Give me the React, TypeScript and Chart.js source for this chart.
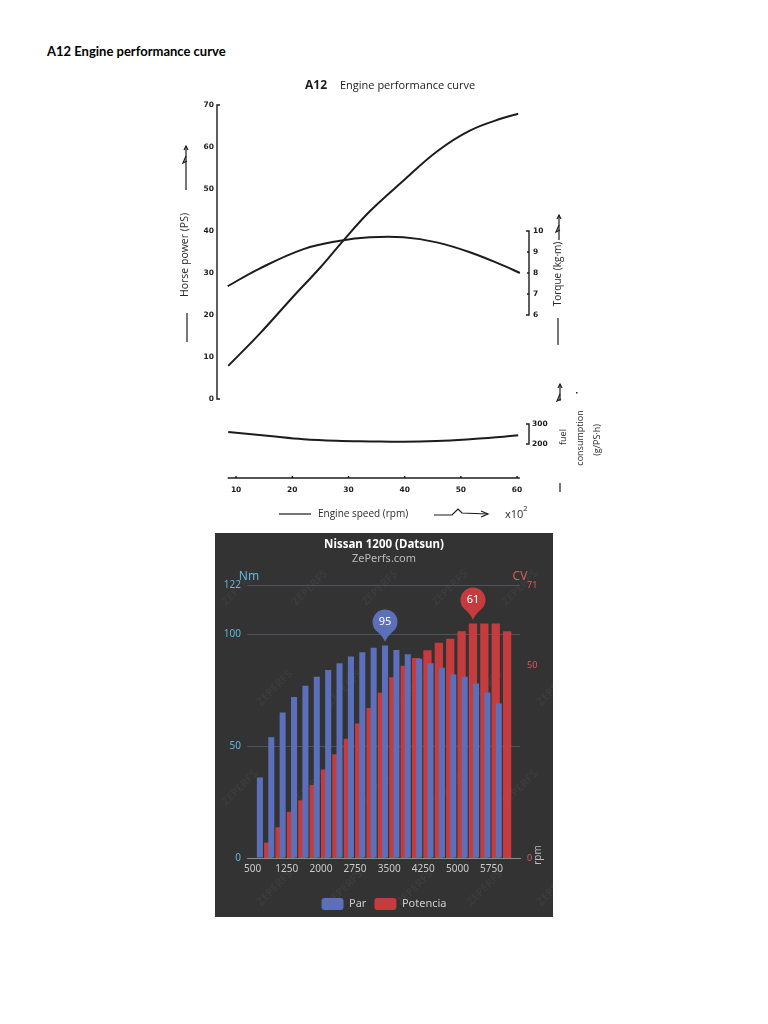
import React, { useEffect, useRef } from 'react';
import { Chart, registerables } from 'chart.js';

Chart.register(...registerables);

// ===== A12 engine performance curve (scanned chart), engine speed in x100 rpm =====
const rpmTicks = [10, 20, 30, 40, 50, 60];
const hpTicks = [0, 10, 20, 30, 40, 50, 60, 70];
const torqueTicks = [6, 7, 8, 9, 10];
const fuelTicks = [200, 300];

const hpSpeed = [8.6, 14.3, 20.1, 24.9, 29.0, 33.8, 39.7, 45.8, 51.6, 57.5, 60.2];
const hpValues = [7.9, 15.7, 24.3, 31.2, 37.6, 44.7, 51.9, 59.0, 63.9, 66.9, 67.9];
const torqueSpeed = [8.5, 14.0, 22.0, 28.5, 33.8, 39.8, 45.7, 51.6, 57.6, 60.5];
const torqueValues = [7.37, 8.19, 9.14, 9.54, 9.7, 9.7, 9.46, 8.99, 8.35, 8.0];
const fuelSpeed = [8.6, 16.0, 22.0, 27.9, 33.8, 39.8, 45.7, 51.6, 57.6, 60.2];
const fuelValues = [260, 240, 224, 216, 213, 211, 215, 224, 236, 244];

// ===== ZePerfs bar chart: Nissan 1200 (Datsun) =====
const rpmCategories = [500, 750, 1000, 1250, 1500, 1750, 2000, 2250, 2500, 2750, 3000, 3250, 3500, 3750, 4000, 4250, 4500, 4750, 5000, 5250, 5500, 5750, 6000, 6250];
const parNm = [null, 36, 54, 65, 72, 77, 81, 84, 87, 90, 92, 94, 95, 93, 91, 89, 87, 85, 82, 81, 78, 74, 69, null];
const potenciaCv = [null, 4, 8, 12, 15, 19, 23, 27, 31, 35, 39, 43, 47, 50, 52, 54, 56, 57, 59, 61, 61, 61, 59, null];
const nmTicks = [0, 50, 100, 122];
const cvTicks = [0, 50, 71];

const INK = '#1c1c1c';
const SCAN_FONT = "'Open Sans', 'Noto Sans', sans-serif";
const ZP_FONT = "'Noto Sans', 'Open Sans', sans-serif";
const BLUE = '#5c6fba';
const RED = '#c43c3d';

function poly(ctx: CanvasRenderingContext2D, pts: number[][]) {
  ctx.beginPath();
  pts.forEach(([x, y], i) => (i === 0 ? ctx.moveTo(x, y) : ctx.lineTo(x, y)));
  ctx.stroke();
}

function vtext(ctx: CanvasRenderingContext2D, text: string, x: number, y: number, font: string) {
  ctx.save();
  ctx.translate(x, y);
  ctx.rotate(-Math.PI / 2);
  ctx.font = font;
  ctx.textAlign = 'center';
  ctx.textBaseline = 'middle';
  ctx.fillText(text, 0, 0);
  ctx.restore();
}

function upArrow(ctx: CanvasRenderingContext2D, x: number, yTop: number, yBot: number) {
  poly(ctx, [[x, yBot], [x, yTop]]);
  poly(ctx, [[x, yTop + 10], [x - 3, yTop + 17], [x + 1, yTop + 15]]);
  poly(ctx, [[x - 2, yTop + 4], [x, yTop], [x + 2, yTop + 4]]);
}

function EngineCurve() {
  const ref = useRef<HTMLCanvasElement>(null);
  useEffect(() => {
    const OX = 150;
    const OY = 60;
    const decor = {
      id: 'scanDecor',
      afterDraw(chart: any) {
        const { ctx, chartArea: ca, scales } = chart;
        const px = (x: number) => x - OX;
        const py = (y: number) => y - OY;
        ctx.save();
        ctx.strokeStyle = INK;
        ctx.fillStyle = INK;
        ctx.lineWidth = 1.4;
        // chart title
        ctx.textBaseline = 'middle';
        ctx.textAlign = 'left';
        ctx.font = `bold 12px ${SCAN_FONT}`;
        ctx.fillText('A12', px(305), py(86));
        ctx.font = `11px ${SCAN_FONT}`;
        ctx.fillText('Engine performance curve', px(340), py(86));
        // horse power axis
        const yh0 = scales.yHP.getPixelForValue(0);
        const yh70 = scales.yHP.getPixelForValue(70);
        poly(ctx, [[ca.left + 3, yh70], [ca.left, yh70], [ca.left, yh0], [ca.left + 3, yh0]]);
        // engine speed axis
        const xb = ca.bottom;
        poly(ctx, [[scales.x.getPixelForValue(8.5), xb], [scales.x.getPixelForValue(60.5), xb]]);
        rpmTicks.forEach((v) => {
          const x = scales.x.getPixelForValue(v);
          poly(ctx, [[x, xb], [x, xb - 2]]);
        });
        // torque bracket
        const bx = ca.right + 8;
        const t6 = scales.yT.getPixelForValue(6);
        const t10 = scales.yT.getPixelForValue(10);
        poly(ctx, [[bx - 3, t10], [bx, t10], [bx, t6], [bx - 3, t6]]);
        [7, 8, 9].forEach((v) => {
          const y = scales.yT.getPixelForValue(v);
          poly(ctx, [[bx - 2, y], [bx, y]]);
        });
        // fuel bracket + labels
        const f2 = scales.yF.getPixelForValue(200);
        const f3 = scales.yF.getPixelForValue(300);
        poly(ctx, [[bx - 3, f3], [bx, f3], [bx, f2], [bx - 3, f2]]);
        ctx.font = `bold 7.5px 'DejaVu Sans', sans-serif`;
        ctx.textAlign = 'left';
        fuelTicks.forEach((v) => ctx.fillText(String(v), bx + 3, scales.yF.getPixelForValue(v)));
        // axis titles
        ctx.fillStyle = '#2a2a2a';
        vtext(ctx, 'Horse power (PS)', px(185), py(255), `10.5px ${SCAN_FONT}`);
        vtext(ctx, 'Torque (kg·m)', px(558), py(274), `10px ${SCAN_FONT}`);
        vtext(ctx, 'fuel', px(563), py(437), `9px ${SCAN_FONT}`);
        vtext(ctx, 'consumption', px(580), py(438), `9px ${SCAN_FONT}`);
        vtext(ctx, '(g/PS·h)', px(597), py(440), `9px ${SCAN_FONT}`);
        ctx.lineWidth = 1.2;
        poly(ctx, [[px(187), py(313)], [px(187), py(342)]]);
        upArrow(ctx, px(186), py(146), py(190));
        poly(ctx, [[px(558), py(318)], [px(558), py(345)]]);
        upArrow(ctx, px(559), py(215), py(240));
        upArrow(ctx, px(560), py(384), py(401));
        poly(ctx, [[px(560), py(483)], [px(560), py(492)]]);
        ctx.fillRect(px(576), py(392), 1.5, 1.5);
        // engine speed legend
        poly(ctx, [[px(279), py(514)], [px(311), py(514)]]);
        ctx.font = `10px ${SCAN_FONT}`;
        ctx.textAlign = 'left';
        ctx.textBaseline = 'middle';
        ctx.fillText('Engine speed (rpm)', px(318), py(514));
        poly(ctx, [[px(434), py(515)], [px(452), py(515)], [px(458), py(509)], [px(462), py(513)], [px(488), py(514)]]);
        poly(ctx, [[px(481), py(511)], [px(488), py(514)], [px(481), py(517)]]);
        ctx.font = `11px ${SCAN_FONT}`;
        ctx.fillText('x10', px(505), py(515));
        ctx.font = `8px ${SCAN_FONT}`;
        ctx.fillText('2', px(523), py(509));
        ctx.restore();
      },
    };
    const tickFont = { family: "'DejaVu Sans', sans-serif", size: 7.5, weight: 'bold' as const };
    const chart = new Chart(ref.current as HTMLCanvasElement, {
      type: 'line',
      data: {
        datasets: [
          { label: 'Horse power', data: hpSpeed.map((x, i) => ({ x, y: hpValues[i] })), yAxisID: 'yHP' },
          { label: 'Torque', data: torqueSpeed.map((x, i) => ({ x, y: torqueValues[i] })), yAxisID: 'yT' },
          { label: 'Fuel consumption', data: fuelSpeed.map((x, i) => ({ x, y: fuelValues[i] })), yAxisID: 'yF' },
        ],
      },
      options: {
        responsive: false,
        animation: false,
        layout: { padding: { top: 45, left: 0, right: 0, bottom: 0 } },
        elements: {
          point: { radius: 0 },
          line: { borderColor: INK, borderWidth: 2, tension: 0.4, fill: false },
        },
        plugins: { legend: { display: false }, tooltip: { enabled: false } },
        scales: {
          x: {
            type: 'linear',
            min: 6.6,
            max: 60.7,
            afterBuildTicks: (s: any) => { s.ticks = rpmTicks.map((v) => ({ value: v })); },
            afterFit: (s: any) => { s.height = 57; },
            grid: { display: false, drawTicks: false },
            border: { display: false },
            ticks: { padding: 8, color: INK, font: tickFont, maxRotation: 0 },
          },
          yHP: {
            type: 'linear',
            position: 'left',
            min: -18.8,
            max: 70,
            afterBuildTicks: (s: any) => { s.ticks = hpTicks.map((v) => ({ value: v })); },
            afterFit: (s: any) => { s.width = 67; },
            grid: { display: false, drawTicks: false },
            border: { display: false },
            ticks: { padding: 3, color: INK, font: tickFont },
          },
          yT: {
            type: 'linear',
            position: 'right',
            min: -1.76,
            max: 16,
            afterBuildTicks: (s: any) => { s.ticks = torqueTicks.map((v) => ({ value: v })); },
            afterFit: (s: any) => { s.width = 99; },
            grid: { display: false, drawTicks: false },
            border: { display: false },
            ticks: { padding: 12, color: INK, font: tickFont },
          },
          yF: { type: 'linear', display: false, min: 30, max: 1895 },
        },
      } as any,
      plugins: [decor],
    });
    return () => chart.destroy();
  }, []);
  return <canvas ref={ref} width={470} height={475} style={{ position: 'absolute', left: 150, top: 60 }} />;
}

function drawPin(ctx: CanvasRenderingContext2D, cx: number, cy: number, tipY: number, r: number, color: string, text: string) {
  const a = 0.78;
  const sx = cx - r * Math.sin(a);
  const sy = cy + r * Math.cos(a);
  ctx.save();
  ctx.fillStyle = color;
  ctx.beginPath();
  ctx.moveTo(sx, sy);
  ctx.arc(cx, cy, r, Math.PI / 2 + a, Math.PI / 2 - a, false);
  ctx.quadraticCurveTo(cx + 2.5, tipY - 6, cx, tipY);
  ctx.quadraticCurveTo(cx - 2.5, tipY - 6, sx, sy);
  ctx.closePath();
  ctx.fill();
  ctx.fillStyle = '#fff';
  ctx.font = `11px ${ZP_FONT}`;
  ctx.textAlign = 'center';
  ctx.textBaseline = 'middle';
  ctx.fillText(text, cx, cy);
  ctx.restore();
}

function ZePerfsChart() {
  const ref = useRef<HTMLCanvasElement>(null);
  useEffect(() => {
    const background = {
      id: 'zpBackground',
      beforeDraw(chart: any) {
        const { ctx, width, height } = chart;
        ctx.save();
        ctx.fillStyle = '#333333';
        ctx.fillRect(0, 0, width, height);
        ctx.fillStyle = 'rgba(255,255,255,0.045)';
        ctx.font = `bold 11px ${ZP_FONT}`;
        ctx.textAlign = 'center';
        ctx.textBaseline = 'middle';
        for (let row = 0; row < 5; row++) {
          for (let col = 0; col < 6; col++) {
            const x = 25 + col * 70 + (row % 2) * 35;
            const y = 55 + row * 100;
            ctx.save();
            ctx.translate(x, y);
            ctx.rotate(-Math.PI / 4);
            ctx.fillText('ZEPERFS', 0, 0);
            ctx.restore();
          }
        }
        ctx.restore();
      },
    };
    const extras = {
      id: 'zpExtras',
      afterDatasetsDraw(chart: any) {
        const { ctx, chartArea: ca } = chart;
        chart.data.datasets.forEach((ds: any, di: number) => {
          const vals = ds.data as (number | null)[];
          let best = -1;
          vals.forEach((v, i) => {
            if (v != null && (best < 0 || v > (vals[best] as number))) best = i;
          });
          const el = chart.getDatasetMeta(di).data[best];
          drawPin(ctx, el.x, el.y - 23.5, el.y - 3.5, 12.5, ds.backgroundColor, String(vals[best]));
        });
        ctx.save();
        ctx.textAlign = 'center';
        ctx.textBaseline = 'middle';
        ctx.font = `12px ${ZP_FONT}`;
        ctx.fillStyle = '#64b4dc';
        ctx.fillText('Nm', ca.left + 2, ca.top - 8);
        ctx.fillStyle = '#dc5a5a';
        ctx.fillText('CV', ca.right, ca.top - 8);
        ctx.fillStyle = '#bbbbbb';
        vtext(ctx, 'rpm', ca.right + 18, ca.bottom - 3, `10px ${ZP_FONT}`);
        ctx.restore();
      },
    };
    const tickFont = { family: ZP_FONT, size: 10 };
    const chart = new Chart(ref.current as HTMLCanvasElement, {
      type: 'bar',
      data: {
        labels: rpmCategories.map(String),
        datasets: [
          { label: 'Par', data: parNm, backgroundColor: BLUE, yAxisID: 'yNm', categoryPercentage: 1.46, barPercentage: 0.73 },
          { label: 'Potencia', data: potenciaCv, backgroundColor: RED, yAxisID: 'yCV', categoryPercentage: 1.46, barPercentage: 1.0 },
        ],
      },
      options: {
        responsive: false,
        animation: false,
        layout: { padding: 0 },
        plugins: {
          title: {
            display: true,
            text: 'Nissan 1200 (Datsun)',
            color: '#ffffff',
            font: { family: ZP_FONT, size: 11.5, weight: 'bold' },
            padding: { top: 5, bottom: 0 },
          },
          subtitle: {
            display: true,
            text: 'ZePerfs.com',
            color: '#bbbbbb',
            font: { family: ZP_FONT, size: 11 },
            padding: { top: 0, bottom: 20 },
          },
          legend: {
            position: 'bottom',
            labels: {
              boxWidth: 22,
              boxHeight: 12,
              padding: 8,
              color: '#cccccc',
              font: { family: ZP_FONT, size: 11 },
              useBorderRadius: true,
              borderRadius: 3,
            },
          },
          tooltip: { enabled: false },
        },
        scales: {
          x: {
            afterFit: (s: any) => { s.height = 32; },
            grid: { display: false, drawTicks: false },
            border: { color: '#8a8a8a', width: 1 },
            ticks: {
              autoSkip: false,
              maxRotation: 0,
              padding: 5,
              color: '#cccccc',
              font: tickFont,
              callback: (_v: any, i: number) => (i % 3 === 0 ? String(rpmCategories[i]) : ''),
            },
          },
          yNm: {
            position: 'left',
            min: 0,
            max: 122,
            afterBuildTicks: (s: any) => { s.ticks = nmTicks.map((v) => ({ value: v })); },
            afterFit: (s: any) => { s.width = 32; },
            grid: { color: '#50525e', drawTicks: false },
            border: { display: false },
            ticks: { padding: 6, color: '#64b4dc', font: tickFont },
          },
          yCV: {
            position: 'right',
            min: 0,
            max: 71,
            afterBuildTicks: (s: any) => { s.ticks = cvTicks.map((v) => ({ value: v })); },
            afterFit: (s: any) => { s.width = 33; },
            grid: { display: false, drawTicks: false },
            border: { display: false },
            ticks: { padding: 7, color: '#dc5a5a', font: { family: ZP_FONT, size: 9 } },
          },
        },
      } as any,
      plugins: [background, extras],
    });
    return () => chart.destroy();
  }, []);
  return (
    <div style={{ position: 'absolute', left: 215, top: 533, width: 338, height: 384, overflow: 'hidden', background: '#333333' }}>
      <canvas ref={ref} width={338} height={387} style={{ display: 'block' }} />
    </div>
  );
}

export default function App() {
  return (
    <div style={{ position: 'absolute', left: 0, top: 0, width: 768, height: 1024, background: '#ffffff' }}>
      <div
        style={{
          position: 'absolute',
          left: 47,
          top: 43,
          font: "bold 13px Lato, 'Open Sans', sans-serif",
          lineHeight: '16px',
          color: '#000',
          whiteSpace: 'nowrap',
        }}
      >
        A12 Engine performance curve
      </div>
      <EngineCurve />
      <ZePerfsChart />
    </div>
  );
}
